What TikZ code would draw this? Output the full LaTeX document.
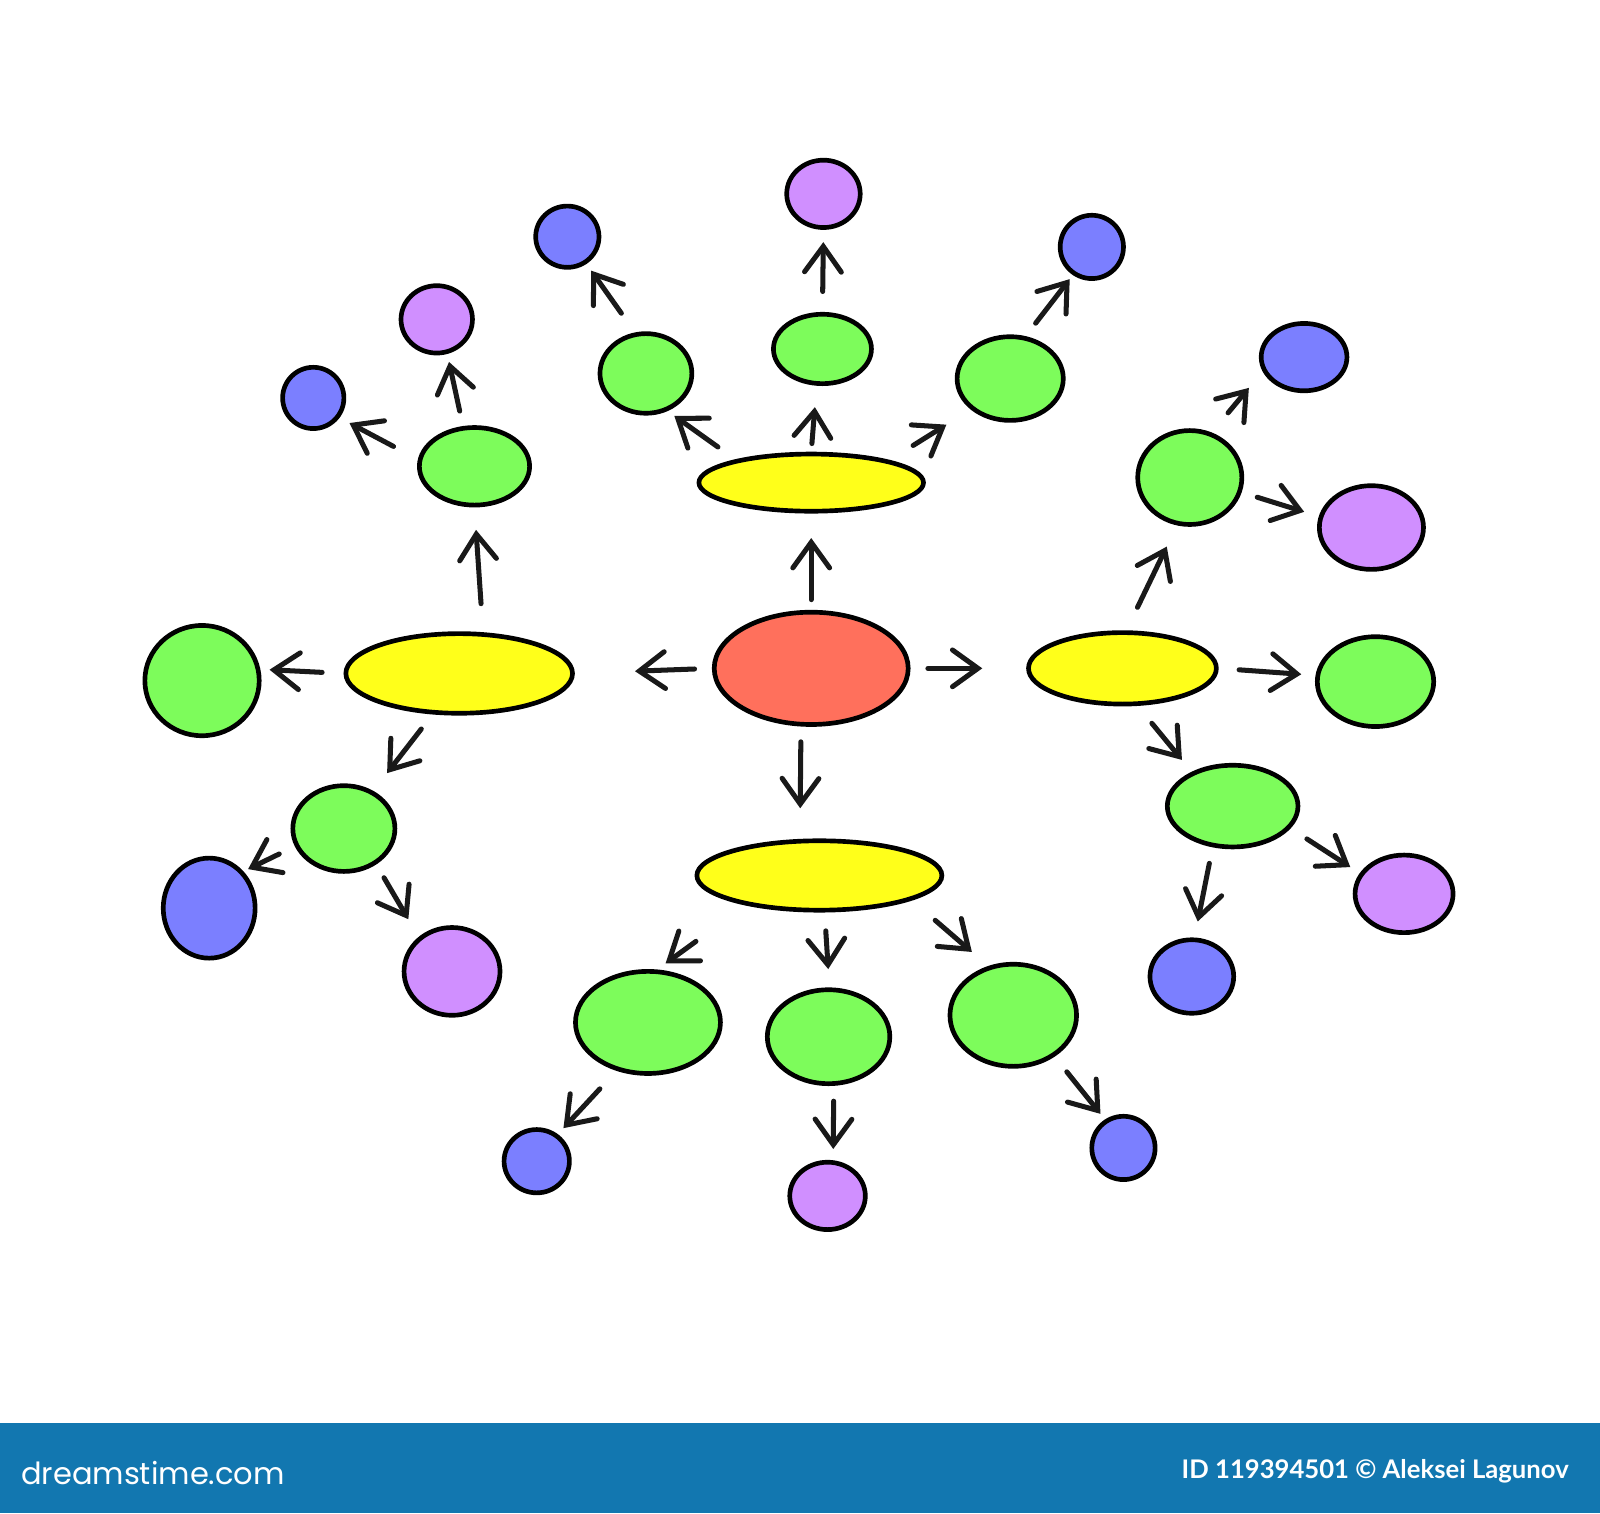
\documentclass[tikz,border=0pt]{standalone}
\usepackage{fontspec}
\usetikzlibrary{shapes,arrows.meta}
\newfontfamily\logofont{Poppins}
\newfontfamily\idfont{Lato}
\definecolor{mm_red}{RGB}{255, 112, 92}
\definecolor{mm_yellow}{RGB}{255, 255, 26}
\definecolor{mm_green}{RGB}{125, 252, 91}
\definecolor{mm_blue}{RGB}{123, 127, 255}
\definecolor{mm_purple}{RGB}{208, 143, 255}
\definecolor{mm_banner}{RGB}{18, 119, 176}
\tikzstyle{rn}=[ellipse,fill=mm_red,draw=black,line width=1.3pt,inner sep=0pt]
\tikzstyle{yn}=[ellipse,fill=mm_yellow,draw=black,line width=1.3pt,inner sep=0pt]
\tikzstyle{gn}=[ellipse,fill=mm_green,draw=black,line width=1.3pt,inner sep=0pt]
\tikzstyle{bn}=[ellipse,fill=mm_blue,draw=black,line width=1.3pt,inner sep=0pt]
\tikzstyle{pn}=[ellipse,fill=mm_purple,draw=black,line width=1.3pt,inner sep=0pt]
\tikzstyle{arr}=[-{Straight Barb[length=2.5mm,width=3.6mm,line cap=round]},
  line width=1.4pt,line cap=round,color=black!90]

\begin{document}
\begin{tikzpicture}[x=0.01cm,y=-0.01cm]
    \useasboundingbox (0,0) rectangle (1568,1483);
    \fill[white] (0,0) rectangle (1568,1483);
    % centre and main branches
    \node [style=rn, minimum width=1.90cm, minimum height=1.10cm] (red) at (795,655) {};
    \node [style=yn, minimum width=2.20cm, minimum height=0.56cm] (ytop) at (795,473) {};
    \node [style=yn, minimum width=2.22cm, minimum height=0.78cm] (yleft) at (450,660) {};
    \node [style=yn, minimum width=1.84cm, minimum height=0.70cm] (yright) at (1100,655) {};
    \node [style=yn, minimum width=2.40cm, minimum height=0.68cm] (ybot) at (803,858) {};
    % green nodes
    \node [style=gn, minimum width=1.08cm, minimum height=0.76cm] (gtl) at (465,457) {};
    \node [style=gn, minimum width=0.90cm, minimum height=0.78cm] (gt1) at (633,366) {};
    \node [style=gn, minimum width=0.96cm, minimum height=0.68cm] (gt2) at (806,342) {};
    \node [style=gn, minimum width=1.04cm, minimum height=0.82cm] (gt3) at (990,371) {};
    \node [style=gn, minimum width=1.02cm, minimum height=0.92cm] (gr1) at (1166,468) {};
    \node [style=gn, minimum width=1.14cm, minimum height=0.88cm] (gr2) at (1348,668) {};
    \node [style=gn, minimum width=1.28cm, minimum height=0.80cm] (gr3) at (1208,790) {};
    \node [style=gn, minimum width=1.12cm, minimum height=1.08cm] (gl1) at (198,667) {};
    \node [style=gn, minimum width=1.00cm, minimum height=0.84cm] (gl2) at (337,812) {};
    \node [style=gn, minimum width=1.42cm, minimum height=1.00cm] (gb1) at (635,1002) {};
    \node [style=gn, minimum width=1.20cm, minimum height=0.92cm] (gb2) at (812,1016) {};
    \node [style=gn, minimum width=1.24cm, minimum height=1.00cm] (gb3) at (993,995) {};
    % leaves
    \node [style=bn, minimum width=0.60cm, minimum height=0.60cm] (b1) at (307,390) {};
    \node [style=pn, minimum width=0.70cm, minimum height=0.66cm] (p1) at (428,313) {};
    \node [style=bn, minimum width=0.62cm, minimum height=0.60cm] (b2) at (556,232) {};
    \node [style=pn, minimum width=0.72cm, minimum height=0.66cm] (p2) at (807,190) {};
    \node [style=bn, minimum width=0.62cm, minimum height=0.62cm] (b3) at (1070,242) {};
    \node [style=bn, minimum width=0.84cm, minimum height=0.66cm] (b4) at (1278,350) {};
    \node [style=pn, minimum width=1.02cm, minimum height=0.82cm] (p3) at (1344,517) {};
    \node [style=pn, minimum width=0.96cm, minimum height=0.76cm] (p4) at (1376,876) {};
    \node [style=bn, minimum width=0.82cm, minimum height=0.72cm] (b5) at (1168,957) {};
    \node [style=bn, minimum width=0.90cm, minimum height=0.98cm] (b6) at (205,890) {};
    \node [style=pn, minimum width=0.94cm, minimum height=0.86cm] (p5) at (443,952) {};
    \node [style=bn, minimum width=0.64cm, minimum height=0.62cm] (b7) at (526,1138) {};
    \node [style=pn, minimum width=0.74cm, minimum height=0.66cm] (p6) at (811,1172) {};
    \node [style=bn, minimum width=0.62cm, minimum height=0.62cm] (b8) at (1101,1125) {};
    % arrows
    \draw [arr, shorten <=0.10cm, shorten >=0.24cm] (red.north) to (ytop.south);
    \draw [arr, shorten <=0.17cm, shorten >=0.59cm] (red.west) to (yleft.east);
    \draw [arr, shorten <=0.17cm, shorten >=0.43cm] (red.east) to (yright.west);
    \draw [arr, shorten <=0.15cm, shorten >=0.30cm] (red.-100) to (ybot.118);
    \draw [arr, shorten <=0.21cm, shorten >=0.08cm] (ytop.163) to (gt1.-60);
    \draw [arr, shorten <=0.08cm, shorten >=0.21cm] (ytop.north) to (gt2.-99);
    \draw [arr, shorten <=0.27cm, shorten >=0.28cm] (ytop.16) to (gt3.-142);
    \draw [arr, shorten <=0.23cm, shorten >=0.08cm] (gt1.105) to (b2.-55);
    \draw [arr, shorten <=0.20cm, shorten >=0.12cm] (gt2.north) to (p2.south);
    \draw [arr, shorten <=0.16cm, shorten >=0.05cm] (gt3.70) to (b3.-124);
    \draw [arr, shorten <=0.28cm, shorten >=0.22cm] (yleft.60) to (gtl.south);
    \draw [arr, shorten <=0.15cm, shorten >=0.08cm] (gtl.106) to (p1.-73);
    \draw [arr, shorten <=0.27cm, shorten >=0.11cm] (gtl.173) to (b1.-37);
    \draw [arr, shorten <=0.21cm, shorten >=0.09cm] (yleft.west) to (gl1.11);
    \draw [arr, shorten <=0.18cm, shorten >=0.22cm] (yleft.-123) to (gl2.52);
    \draw [arr, shorten <=0.17cm, shorten >=0.05cm] (gl2.-160) to (b6.47);
    \draw [arr, shorten <=0.15cm, shorten >=0.20cm] (gl2.-48) to (p5.134);
    \draw [arr, shorten <=0.25cm, shorten >=0.23cm] (yright.84) to (gr1.-105);
    \draw [arr, shorten <=0.25cm, shorten >=0.21cm] (gr1.64) to (b4.-161);
    \draw [arr, shorten <=0.16cm, shorten >=0.15cm] (gr1.-16) to (p3.168);
    \draw [arr, shorten <=0.20cm, shorten >=0.14cm] (yright.east) to (gr2.174);
    \draw [arr, shorten <=0.22cm, shorten >=0.15cm] (yright.-68) to (gr3.140);
    \draw [arr, shorten <=0.19cm, shorten >=0.11cm] (gr3.-21) to (p4.155);
    \draw [arr, shorten <=0.16cm, shorten >=0.16cm] (gr3.-116) to (b5.86);
    \draw [arr, shorten <=0.60cm, shorten >=0.10cm] (ybot.-158) to (gb1.80);
    \draw [arr, shorten <=0.18cm, shorten >=0.18cm] (ybot.-82) to (gb2.89);
    \draw [arr, shorten <=0.30cm, shorten >=0.21cm] (ybot.-15) to (gb3.117);
    \draw [arr, shorten <=0.24cm, shorten >=0.08cm] (gb1.-123) to (b7.52);
    \draw [arr, shorten <=0.15cm, shorten >=0.11cm] (gb2.-84) to (p6.81);
    \draw [arr, shorten <=0.19cm, shorten >=0.07cm] (gb3.-45) to (b8.123);
    % banner
    \fill [mm_banner] (0,1395) rectangle (1568,1483);
    \node [anchor=base west, inner sep=0pt, text=white,
      font=\logofont\fontsize{8.5}{10}\selectfont] (logo) at (20,1455) {dreamstime.com};
    \node [anchor=base east, inner sep=0pt, text=white,
      font=\idfont\bfseries\fontsize{7.15}{9}\selectfont] (credit) at (1538,1449)
      {ID 119394501 © Aleksei Lagunov};
\end{tikzpicture}
\end{document}
